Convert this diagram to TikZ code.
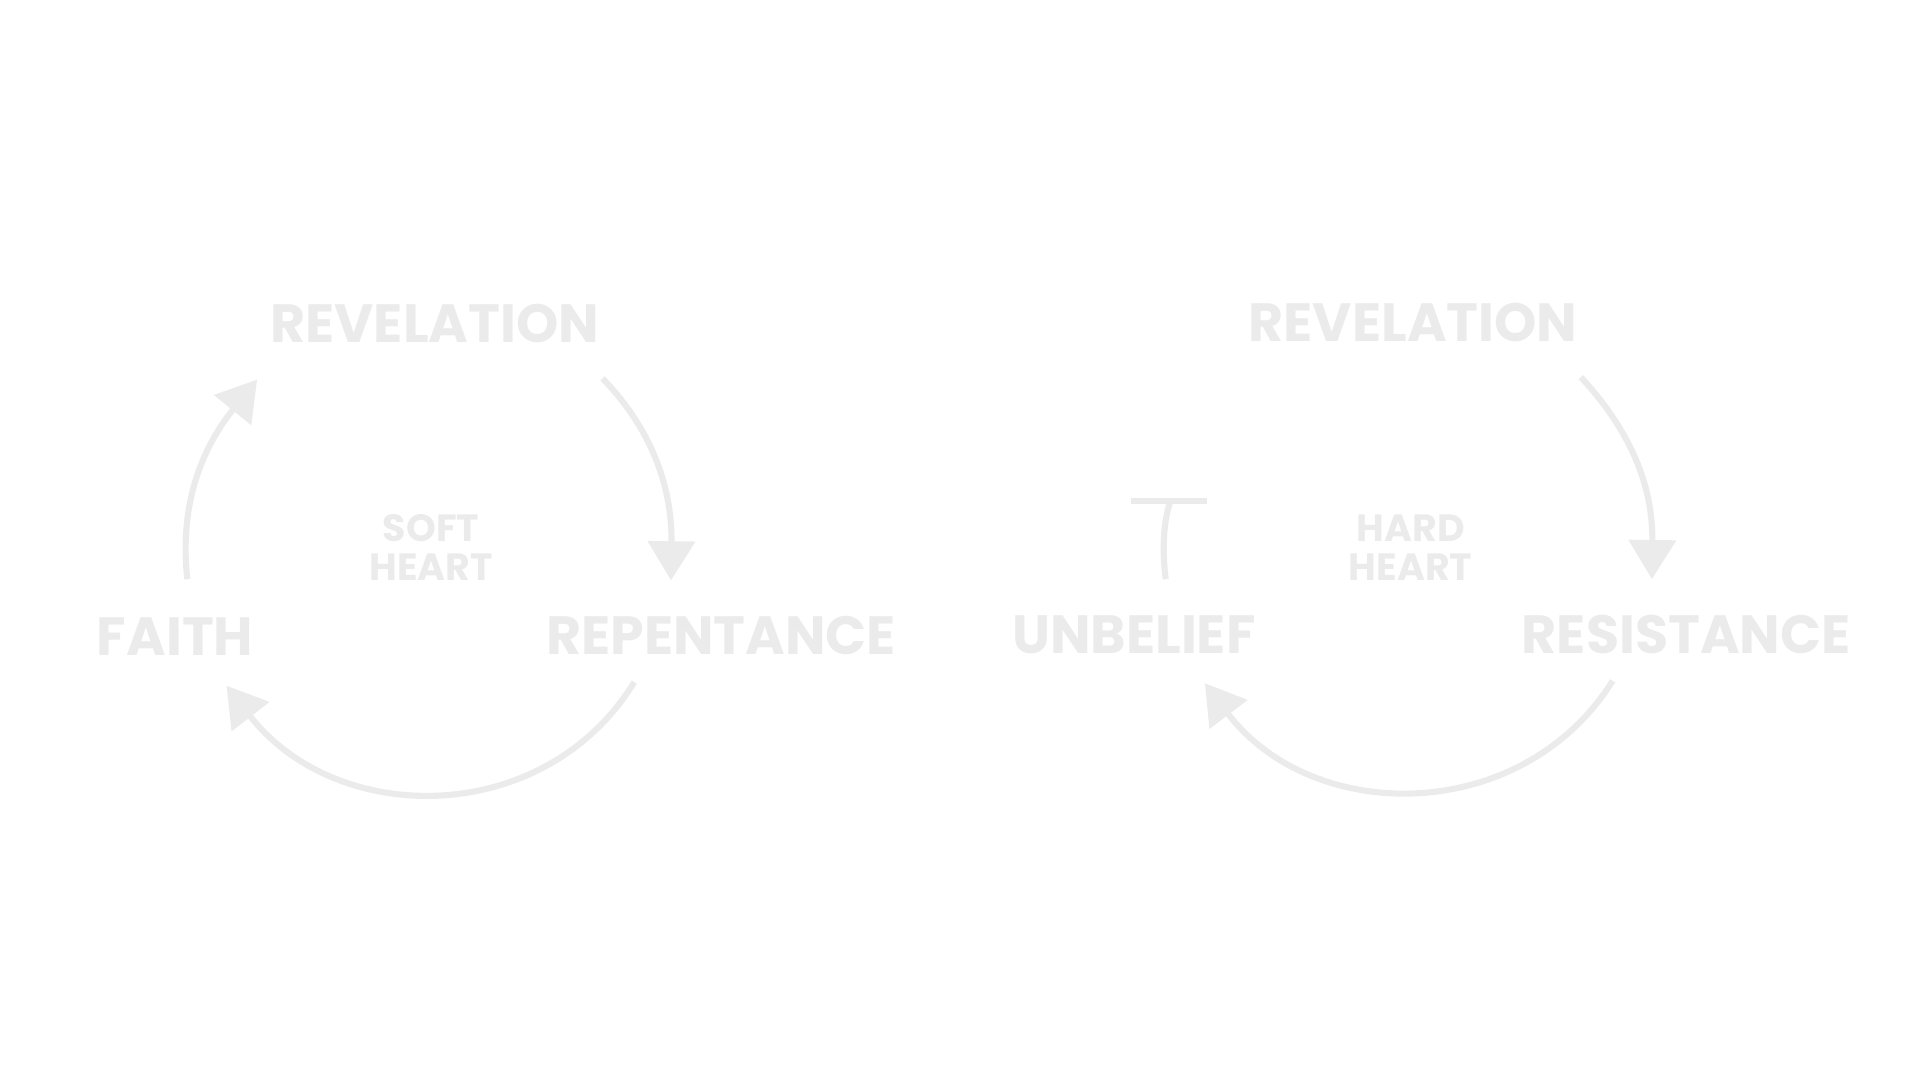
\documentclass[tikz,border=0pt]{standalone}
\usepackage{fontspec}
\setmainfont{Poppins}[BoldFont=* Bold]
\usetikzlibrary{arrows.meta}
\definecolor{lg}{HTML}{EBEBEB}
\tikzset{
  big/.style={text=lg,font=\fontsize{44}{44}\selectfont\bfseries,inner sep=0pt},
  small/.style={text=lg,font=\fontsize{31}{32}\selectfont\bfseries,inner sep=0pt,align=center},
  conn/.style={draw=lg,line width=5pt,-{Triangle[width=38pt,length=32pt]}},
  plain/.style={draw=lg,line width=5pt}
}
\begin{document}
\begin{tikzpicture}[x=1pt,y=-1pt]
\useasboundingbox (0,0) rectangle (1568,882);
\node[big] (rev1) at (355,264) {REVELATION};
\node[big] (faith) at (143,520) {FAITH};
\node[big] (rep) at (589,519) {REPENTANCE};
\node[small] (soft) at (352,447) {SOFT\\HEART};
\node[big] (rev2) at (1154,263) {REVELATION};
\node[big] (unb) at (926,518) {UNBELIEF};
\node[big] (res) at (1377,518) {RESISTANCE};
\node[small] (hard) at (1152,447) {HARD\\HEART};
\coordinate (a1) at (492,309); \coordinate (a2) at (548,474);
\coordinate (b1) at (153,473); \coordinate (b2) at (210,310);
\coordinate (c1) at (518,557); \coordinate (c2) at (185,560);
\coordinate (d1) at (1291,308); \coordinate (d2) at (1349,473);
\coordinate (e1) at (1317,556); \coordinate (e2) at (984,558);
\coordinate (t1) at (952,473); \coordinate (t2) at (956,409);
\coordinate (tl) at (924,409); \coordinate (tr) at (986,409);
\draw[conn] (a1) .. controls (530,348) and (549,395) .. (a2);
\draw[conn] (b1) .. controls (147,420) and (160,372) .. (b2);
\draw[conn] (c1) .. controls (445,676) and (275,676) .. (c2);
\draw[conn] (d1) .. controls (1330,350) and (1350,395) .. (d2);
\draw[conn] (e1) .. controls (1243,674) and (1072,674) .. (e2);
\draw[plain] (t1) .. controls (949,450) and (950,425) .. (t2);
\draw[plain] (tl) -- (tr);
\end{tikzpicture}
\end{document}
